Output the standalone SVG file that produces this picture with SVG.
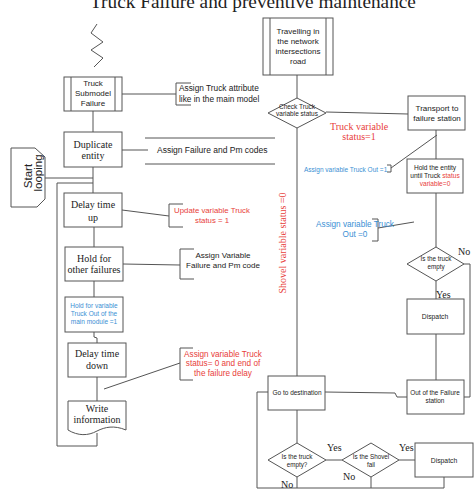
<svg xmlns="http://www.w3.org/2000/svg" width="474" height="495" viewBox="0 0 474 495">
<style>
.b{fill:#fff;stroke:#555;stroke-width:1}
.l{fill:none;stroke:#555;stroke-width:1}
.s{font-family:"Liberation Sans",Arial,sans-serif;fill:#222}
.r{font-family:"Liberation Serif","Times New Roman",serif;fill:#222}
.m{text-anchor:middle}
.red{fill:#e8403a}
.blue{fill:#3b8fd4}
</style>
<rect width="474" height="495" fill="#fff"/>
<text class="r" x="90" y="8" font-size="19.3">Truck Failure and preventive maintenance</text>
<g id="connectors">
<polyline class="l" points="97,24 91,33 103,42 91,50 103,58 94,67"/>
<line class="l" x1="93" y1="111" x2="93" y2="132"/>
<line class="l" x1="122" y1="94" x2="176" y2="94"/>
<line class="l" x1="93" y1="167" x2="93" y2="193"/>
<line class="l" x1="122" y1="150" x2="148" y2="150"/>
<line class="l" x1="145" y1="138" x2="275" y2="138"/>
<line class="l" x1="145" y1="164" x2="275" y2="164"/>
<line class="l" x1="45" y1="178" x2="93" y2="178"/>
<polyline class="l" points="93,183 57,183 57,446 97,446 97,433"/>
<line class="l" x1="122" y1="210" x2="169" y2="216"/>
<line class="l" x1="94" y1="227" x2="94" y2="247"/>
<line class="l" x1="123" y1="264" x2="180" y2="265"/>
<line class="l" x1="94" y1="281" x2="94" y2="297"/>
<polyline class="l" points="94,332 94,337 97,338 97,343"/>
<line class="l" x1="97" y1="377" x2="97" y2="401"/>
<line class="l" x1="180" y1="363" x2="104" y2="389"/>
<line class="l" x1="297" y1="75" x2="297" y2="98"/>
<line class="l" x1="326" y1="112" x2="408" y2="114"/>
<line class="l" x1="297" y1="128" x2="297" y2="376"/>
<line class="l" x1="436" y1="130" x2="436" y2="159"/>
<line class="l" x1="437" y1="135" x2="391" y2="168"/>
<line class="l" x1="378" y1="228" x2="414" y2="222"/>
<line class="l" x1="436" y1="193" x2="436" y2="247"/>
<polyline class="l" points="464,264 470,264 470,397 464,397"/>
<line class="l" x1="436" y1="281" x2="436" y2="299"/>
<line class="l" x1="436" y1="334" x2="436" y2="380"/>
<polyline class="l" points="325,392 395,393 397,397 407,397"/>
<polyline class="l" points="268,392 257,392 257,488 444,488"/>
<line class="l" x1="297" y1="410" x2="297" y2="443"/>
<line class="l" x1="297" y1="477" x2="297" y2="488"/>
<line class="l" x1="326" y1="460" x2="342" y2="460"/>
<line class="l" x1="371" y1="477" x2="371" y2="488"/>
<line class="l" x1="399" y1="460" x2="415" y2="460"/>
<line class="l" x1="444" y1="477" x2="444" y2="488"/>
</g>
<g id="submodel">
<rect class="b" x="64" y="77" width="58" height="34"/>
<line class="l" x1="71" y1="77" x2="71" y2="111"/>
<line class="l" x1="115" y1="77" x2="115" y2="111"/>
<text class="s m" font-size="8" x="93" y="86">Truck</text>
<text class="s m" font-size="8" x="93" y="96">Submodel</text>
<text class="s m" font-size="8" x="93" y="106">Failure</text>
</g>
<g id="note-attr">
<polyline class="l" points="191,83 176,83 176,105 191,105"/>
<text class="s" font-size="8.3" x="179" y="91">Assign Truck attribute</text>
<text class="s" font-size="8.3" x="179" y="102">like in the main model</text>
</g>
<g id="duplicate">
<rect class="b" x="64" y="132" width="58" height="35"/>
<text class="r m" font-size="10" x="93" y="148">Duplicate</text>
<text class="r m" font-size="10" x="93" y="159">entity</text>
</g>
<g id="note-codes">
<text class="s" font-size="8.5" x="157" y="153">Assign Failure and Pm codes</text>
</g>
<g id="start">
<path class="b" d="M11,148 H35 L45,157 V199 L37,207 H11 Z"/>
<text class="s m" font-size="11.5" transform="translate(32,176) rotate(-90)">Start</text>
<text class="s m" font-size="11.5" transform="translate(42,173) rotate(-90)">looping</text>
</g>
<g id="delay-up">
<rect class="b" x="64" y="193" width="58" height="34"/>
<text class="r m" font-size="10" x="93" y="207.5">Delay time</text>
<text class="r m" font-size="10" x="93" y="220.5">up</text>
</g>
<g id="note-update">
<polyline class="l" points="183,204 169,204 169,227 183,227"/>
<text class="s m red" font-size="7.8" x="212" y="213">Update variable Truck</text>
<text class="s m red" font-size="7.8" x="212" y="223">status = 1</text>
</g>
<g id="hold-other">
<rect class="b" x="65" y="247" width="58" height="34"/>
<text class="r m" font-size="10" x="94" y="261.5">Hold for</text>
<text class="r m" font-size="10" x="94" y="272.5">other failures</text>
</g>
<g id="note-var">
<polyline class="l" points="194,249 180,249 180,279 194,279"/>
<text class="s m" font-size="8" x="223" y="258">Assign Variable</text>
<text class="s m" font-size="8" x="223" y="268">Failure and Pm code</text>
</g>
<g id="hold-var">
<rect class="b" x="65" y="297" width="58" height="35"/>
<text class="s m blue" font-size="6.5" x="94" y="308">Hold for variable</text>
<text class="s m blue" font-size="6.5" x="94" y="316">Truck Out of the</text>
<text class="s m blue" font-size="6.5" x="94" y="324">main module  =1</text>
</g>
<g id="delay-down">
<rect class="b" x="68" y="343" width="58" height="34"/>
<text class="r m" font-size="10" x="97" y="356.5">Delay time</text>
<text class="r m" font-size="10" x="97" y="368.5">down</text>
</g>
<g id="write">
<path class="b" d="M68,401 H126 V430 C114,425 105,427 97,431 C88,436 78,436 68,430 Z"/>
<text class="r m" font-size="10" x="97" y="411.5">Write</text>
<text class="r m" font-size="10" x="97" y="422.5">information</text>
</g>
<g id="note-end">
<polyline class="l" points="193,348 180,348 180,380 193,380"/>
<text class="s m red" font-size="8.2" x="223" y="357">Assign variable Truck</text>
<text class="s m red" font-size="8.2" x="223" y="366">status= 0 and end of</text>
<text class="s m red" font-size="8.2" x="223" y="376">the failure delay</text>
</g>
<g id="travelling">
<rect class="b" x="263" y="18" width="70" height="57"/>
<line class="l" x1="270" y1="18" x2="270" y2="75"/>
<line class="l" x1="326" y1="18" x2="326" y2="75"/>
<text class="s m" font-size="8" x="298" y="34">Travelling in</text>
<text class="s m" font-size="8" x="298" y="44">the network</text>
<text class="s m" font-size="8" x="298" y="54">intersections</text>
<text class="s m" font-size="8" x="298" y="64">road</text>
</g>
<g id="check">
<polygon class="b" points="297,98 326,113 297,128 268,113"/>
<text class="s m" font-size="6.5" x="297" y="108.5">Check Truck</text>
<text class="s m" font-size="6.5" x="297" y="115.5">variable status</text>
</g>
<g id="label-status1">
<text class="r m red" font-size="10" x="359" y="129.5">Truck variable</text>
<text class="r m red" font-size="10" x="359" y="139.5">status=1</text>
</g>
<g id="label-shovel">
<text class="r m red" font-size="10" transform="translate(286,243) rotate(-90)">Shovel variable status =0</text>
</g>
<g id="transport">
<rect class="b" x="408" y="96" width="57" height="34"/>
<text class="s m" font-size="8" x="437" y="111">Transport to</text>
<text class="s m" font-size="8" x="437" y="121">failure station</text>
</g>
<g id="note-out1">
<polyline class="l" points="387,165 391,165 391,172 387,172"/>
<text class="s blue" font-size="6.5" x="304" y="171.5">Assign variable Truck Out =1</text>
</g>
<g id="hold-entity">
<rect class="b" x="407" y="159" width="56" height="34"/>
<text class="s m" font-size="6.6" x="435" y="170">Hold the entity</text>
<text class="s m" font-size="6.6" x="435" y="178">until Truck <tspan class="red">status</tspan></text>
<text class="s m red" font-size="6.6" x="435" y="185.5">variable=0</text>
</g>
<g id="note-out0">
<polyline class="l" points="372,219 378,219 378,241 372,241"/>
<text class="s m blue" font-size="8.2" x="355" y="227">Assign variable  Truck</text>
<text class="s m blue" font-size="8.2" x="355" y="237">Out =0</text>
</g>
<g id="empty-right">
<polygon class="b" points="436,247 464,264 436,281 407,264"/>
<text class="s m" font-size="6.3" x="436" y="261">Is the truck</text>
<text class="s m" font-size="6.3" x="436" y="269">empty</text>
<text class="r" font-size="10" x="458" y="255">No</text>
<text class="r" font-size="10" x="436" y="298">Yes</text>
</g>
<g id="dispatch-right">
<rect class="b" x="407" y="299" width="57" height="35"/>
<text class="s m" font-size="6.8" x="435" y="318.5">Dispatch</text>
</g>
<g id="out-failure">
<rect class="b" x="407" y="380" width="57" height="34"/>
<text class="s m" font-size="6.4" x="435" y="395">Out of the Failure</text>
<text class="s m" font-size="6.4" x="435" y="403">station</text>
</g>
<g id="goto">
<rect class="b" x="268" y="376" width="57" height="34"/>
<text class="s m" font-size="6.5" x="297" y="395">Go to destination</text>
</g>
<g id="empty-bottom">
<polygon class="b" points="297,443 326,460 297,477 268,460"/>
<text class="s m" font-size="6.3" x="297" y="459">Is the truck</text>
<text class="s m" font-size="6.3" x="297" y="466.5">empty?</text>
<text class="r" font-size="10" x="327" y="451">Yes</text>
<text class="r" font-size="10" x="281" y="488">No</text>
</g>
<g id="shovel-fail">
<polygon class="b" points="371,443 399,460 371,477 342,460"/>
<text class="s m" font-size="6.3" x="371" y="459">Is the Shovel</text>
<text class="s m" font-size="6.3" x="371" y="466.5">fail</text>
<text class="r" font-size="10" x="343" y="480">No</text>
<text class="r" font-size="10" x="399" y="451">Yes</text>
</g>
<g id="dispatch-bottom">
<rect class="b" x="415" y="443" width="58" height="34"/>
<text class="s m" font-size="6.8" x="444" y="462.5">Dispatch</text>
</g>
</svg>
